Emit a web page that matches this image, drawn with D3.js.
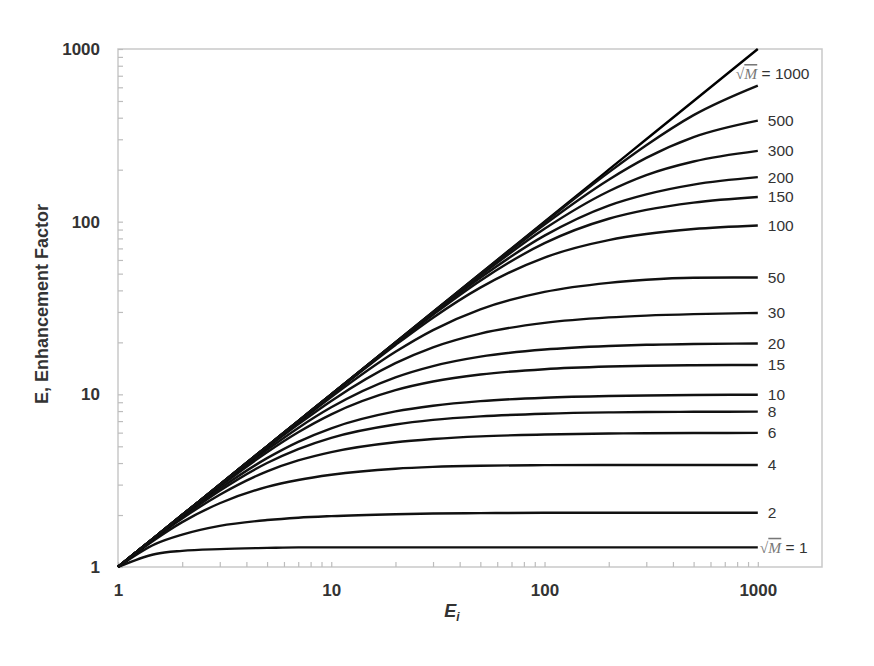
<!DOCTYPE html>
<html>
<head>
<meta charset="utf-8">
<script src="https://cdn.jsdelivr.net/npm/d3@7"></script>
<style>
  body { margin: 0; background: #fff; }
  svg { display: block; font-family: Arial, "Liberation Sans", sans-serif; }
</style>
</head>
<body>
<div id="chart"></div>
<script>
// Ei grid shared by every curve
const eiValues = [1, 1.5, 2, 3, 5, 7, 10, 20, 30, 50, 100, 200, 300, 500, 1000];

// E for each sqrt(M)
const sqrtM1    = [1, 1.19, 1.24, 1.27, 1.29, 1.30, 1.30, 1.30, 1.30, 1.30, 1.30, 1.30, 1.30, 1.30, 1.30];
const sqrtM2    = [1, 1.36, 1.54, 1.73, 1.87, 1.93, 1.97, 2.02, 2.04, 2.05, 2.06, 2.06, 2.06, 2.06, 2.06];
const sqrtM4    = [1, 1.45, 1.82, 2.34, 2.91, 3.19, 3.42, 3.71, 3.80, 3.86, 3.89, 3.9, 3.9, 3.9, 3.9];
const sqrtM6    = [1, 1.48, 1.91, 2.62, 3.58, 4.14, 4.63, 5.28, 5.51, 5.71, 5.85, 5.93, 5.95, 5.97, 5.98];
const sqrtM8    = [1, 1.49, 1.94, 2.76, 4.0, 4.82, 5.6, 6.69, 7.11, 7.45, 7.72, 7.86, 7.9, 7.92, 7.94];
const sqrtM10   = [1, 1.49, 1.96, 2.84, 4.27, 5.31, 6.36, 7.96, 8.59, 9.13, 9.56, 9.78, 9.85, 9.91, 9.95];
const sqrtM15   = [1, 1.5, 1.98, 2.92, 4.62, 6.03, 7.66, 10.57, 11.86, 13.03, 13.98, 14.48, 14.65, 14.75, 14.8];
const sqrtM20   = [1, 1.5, 1.99, 2.96, 4.77, 6.39, 8.41, 12.54, 14.58, 16.53, 18.18, 19.07, 19.38, 19.55, 19.7];
const sqrtM30   = [1, 1.5, 2, 2.98, 4.9, 6.7, 9.16, 15.15, 18.72, 22.48, 25.94, 27.9, 28.58, 29.14, 29.6];
const sqrtM50   = [1, 1.5, 2, 2.99, 4.96, 6.86, 9.65, 17.63, 23.56, 31.07, 39.19, 44.24, 46.07, 47.3, 47.5];
const sqrtM100  = [1, 1.5, 2, 3, 4.99, 6.96, 9.91, 19.3, 27.8, 41.5, 62, 78.2, 84.8, 90.6, 95];
const sqrtM150  = [1, 1.5, 2, 3, 5, 6.98, 9.96, 19.7, 28.9, 45.5, 75.1, 104, 117, 129, 139];
const sqrtM200  = [1, 1.5, 2, 3, 5, 7, 9.98, 19.8, 29.4, 47.3, 83, 124, 144, 164, 181];
const sqrtM300  = [1, 1.5, 2, 3, 5, 7, 10, 19.9, 29.7, 48.7, 90.9, 150, 186, 223, 257];
const sqrtM500  = [1, 1.5, 2, 3, 5, 7, 10, 20, 29.9, 49.5, 96.3, 175, 234, 309, 385];
const sqrtM1000 = [1, 1.5, 2, 3, 5, 7, 10, 20, 30, 50, 99, 193, 277, 414, 614];
// E = Ei limit
const diagonal  = [1, 1.5, 2, 3, 5, 7, 10, 20, 30, 50, 100, 200, 300, 500, 1000];

const seriesLabels = ["1", "2", "4", "6", "8", "10", "15", "20", "30", "50", "100", "150", "200", "300", "500", "1000"];
const seriesValues = [sqrtM1, sqrtM2, sqrtM4, sqrtM6, sqrtM8, sqrtM10, sqrtM15, sqrtM20, sqrtM30, sqrtM50,
                      sqrtM100, sqrtM150, sqrtM200, sqrtM300, sqrtM500, sqrtM1000];

const majorTicks = [1, 10, 100, 1000];

const width = 874, height = 666;
const margin = {top: 49, right: 52, bottom: 99, left: 118};

const svg = d3.select("#chart").append("svg")
    .attr("width", width)
    .attr("height", height);

const x = d3.scaleLog()
    .domain([1, 2000])
    .range([margin.left, width - margin.right]);

const y = d3.scaleLog()
    .domain([1, 1000])
    .range([height - margin.bottom, margin.top]);

// all 1-2-..-9 ticks per decade, up to 1000
const minorTicks = [];
[1, 10, 100].forEach(d => { for (let i = 1; i < 10; i++) minorTicks.push(d * i); });
minorTicks.push(1000);

// plot box
svg.append("rect")
    .attr("x", x(1))
    .attr("y", y(1000))
    .attr("width", x(2000) - x(1))
    .attr("height", y(1) - y(1000))
    .attr("fill", "none")
    .attr("stroke", "#c9c9c9")
    .attr("stroke-width", 1.5);

// inside tick marks
const xTicks = svg.append("g")
    .attr("transform", `translate(0, ${y(1)})`)
    .call(d3.axisBottom(x).tickValues(minorTicks).tickSize(-5).tickFormat(""));
const yTicks = svg.append("g")
    .attr("transform", `translate(${x(1)}, 0)`)
    .call(d3.axisLeft(y).tickValues(minorTicks).tickSize(-5).tickFormat(""));
[xTicks, yTicks].forEach(g => {
    g.select(".domain").remove();
    g.selectAll("line").attr("stroke", "#bdbdbd").attr("stroke-width", 1.2);
});

// tick labels
const xLabels = svg.append("g")
    .attr("transform", `translate(0, ${y(1)})`)
    .call(d3.axisBottom(x).tickValues(majorTicks).tickSize(0).tickPadding(17).tickFormat(d3.format("d")));
const yLabels = svg.append("g")
    .attr("transform", `translate(${x(1)}, 0)`)
    .call(d3.axisLeft(y).tickValues(majorTicks).tickSize(0).tickPadding(18).tickFormat(d3.format("d")));
[xLabels, yLabels].forEach(g => {
    g.select(".domain").remove();
    g.selectAll("text")
        .attr("font-size", 17)
        .attr("font-weight", "bold")
        .attr("font-family", "Arial, 'Liberation Sans', sans-serif")
        .attr("fill", "#333");
});

// axis titles
svg.append("text")
    .attr("transform", `translate(48, ${(y(1) + y(1000)) / 2 - 4}) rotate(-90)`)
    .attr("text-anchor", "middle")
    .attr("font-size", 18)
    .attr("font-weight", "bold")
    .attr("fill", "#333")
    .text("E, Enhancement  Factor");

const xt = svg.append("text")
    .attr("x", 452)
    .attr("y", 617)
    .attr("text-anchor", "middle")
    .attr("font-size", 18)
    .attr("font-weight", "bold")
    .attr("font-style", "italic")
    .attr("fill", "#333");
xt.append("tspan").text("E");
xt.append("tspan").attr("font-size", 12).attr("dy", 4).text("i");

// curves
const line = d3.line()
    .x((d, i) => x(eiValues[i]))
    .y(d => y(d))
    .curve(d3.curveMonotoneX);

svg.append("path")
    .datum(diagonal)
    .attr("d", line)
    .attr("fill", "none")
    .attr("stroke", "#000")
    .attr("stroke-width", 2.4);

svg.selectAll(".curve")
    .data(seriesValues)
    .enter().append("path")
    .attr("class", "curve")
    .attr("d", line)
    .attr("fill", "none")
    .attr("stroke", "#111")
    .attr("stroke-width", 2.4);

// end labels
function sqrtLabel(sel, val) {
    sel.append("tspan")
        .attr("font-family", "'Liberation Serif', 'DejaVu Serif', serif")
        .attr("fill", "#777")
        .text("√");
    sel.append("tspan")
        .attr("font-family", "'Liberation Serif', 'DejaVu Serif', serif")
        .attr("font-style", "italic")
        .attr("fill", "#777")
        .style("text-decoration", "overline")
        .text("M");
    sel.append("tspan").text(" = " + val);
}

seriesLabels.forEach((lab, i) => {
    const last = seriesValues[i][seriesValues[i].length - 1];
    const t = svg.append("text")
        .attr("font-size", 15.5)
        .attr("fill", "#333")
        .attr("dy", "0.35em");
    if (lab === "1") {
        t.attr("x", x(1000) + 2).attr("y", y(last));
        sqrtLabel(t, lab);
    } else if (lab === "1000") {
        t.attr("x", x(1000) - 22).attr("y", y(last) - 12);
        sqrtLabel(t, lab);
    } else {
        t.attr("x", x(1000) + 10).attr("y", y(last)).text(lab);
    }
});
</script>
</body>
</html>
